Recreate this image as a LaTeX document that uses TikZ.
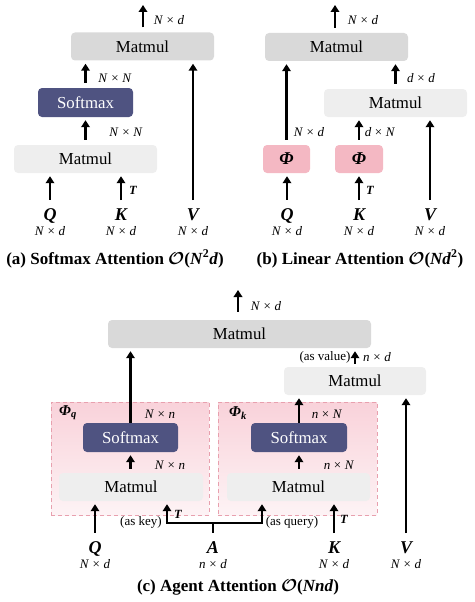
\documentclass[tikz,border=0pt]{standalone}
\usepackage{fontspec}
\setmainfont{Liberation Serif}
\usepackage{amsmath}
\usetikzlibrary{arrows.meta}
\definecolor{mmdark}{HTML}{D9D9D9}
\definecolor{mmlight}{HTML}{EEEEEE}
\definecolor{smfill}{HTML}{4F5381}
\definecolor{phifill}{HTML}{F4B8C3}
\definecolor{pinktop}{HTML}{F9D2DA}
\definecolor{pinkbot}{HTML}{FDF3F5}
\definecolor{pinkline}{HTML}{E8A0AE}
\newcommand{\dimx}[2]{\textit{#1}\hspace{0.28em}×\hspace{0.28em}\textit{#2}}
\tikzset{
 box/.style={rectangle, rounded corners=4pt, minimum height=28pt, inner sep=0pt, font=\fontsize{16.8}{18}\selectfont},
 mmA/.style={box, fill=mmdark},
 mmB/.style={box, fill=mmlight},
 smbox/.style={box, fill=smfill, text=white, minimum height=29pt},
 phibox/.style={box, fill=phifill, font=\fontsize{18}{20}\selectfont\bfseries\itshape},
 region/.style={rectangle, draw=pinkline, dash pattern=on 4pt off 3pt, line width=0.8pt, top color=pinktop, bottom color=pinkbot, inner sep=0pt},
 arr/.style={line width=2.4pt, -{Triangle[length=7pt,width=8.5pt]}, shorten >=3pt},
 plain/.style={line width=2.4pt},
 lbl/.style={font=\fontsize{13}{15}\selectfont, inner sep=0pt},
 tlbl/.style={font=\fontsize{12.5}{14}\selectfont\bfseries\itshape, inner sep=0pt},
 lett/.style={font=\fontsize{18}{20}\selectfont\bfseries\itshape, inner sep=0pt, anchor=base},
 dlbl/.style={lbl, anchor=base},
 capt/.style={font=\fontsize{17}{20}\selectfont\bfseries, inner sep=0pt},
 philbl/.style={font=\fontsize{15}{17}\selectfont\bfseries\itshape, inner sep=0pt},
}
\begin{document}
\begin{tikzpicture}[x=1pt,y=-1pt]
\useasboundingbox (0,0) rectangle (474,602);
% ---------------- (a) ----------------
\node[mmA, minimum width=143pt] (aMM2) at (142.5,46.5) {Matmul};
\node[smbox, minimum width=95pt] (aSM) at (85.5,102.5) {Softmax};
\node[mmB, minimum width=143pt] (aMM1) at (85.5,159) {Matmul};
\node[lett] (aQ) at (50,220) {Q};
\node[lett] (aK) at (121,220) {K};
\node[lett] (aV) at (193,220) {V};
\node[dlbl] (aQd) at (50,235) {\dimx Nd};
\node[dlbl] (aKd) at (121,235) {\dimx Nd};
\node[dlbl] (aVd) at (193,235) {\dimx Nd};
\coordinate (aOut) at (143,2);
\draw[arr, shorten <=5pt] (aMM2.north -| aOut) -- (aOut);
\draw[arr, shorten <=5pt] (aSM.north) -- (aSM.north |- aMM2.south);
\draw[arr, shorten <=5pt] (aMM1.north -| aSM.south) -- (aSM.south);
\draw[arr, shorten <=8pt] (aQ.north) -- (aQ.north |- aMM1.south);
\draw[arr, shorten <=8pt] (aK.north) -- (aK.north |- aMM1.south);
\draw[arr, shorten <=8pt] (aV.north) -- (aV.north |- aMM2.south);
\node[lbl] (aL1) at (169,20) {\dimx Nd};
\node[lbl] (aL2) at (115,78) {\dimx NN};
\node[lbl] (aL3) at (126,132) {\dimx NN};
\node[tlbl] (aT) at (133,190) {T};
\node[capt] (aCap) at (115,259) {(a) Softmax Attention $\boldsymbol{\mathcal{O}}$(\textit{N}\textsuperscript{2}\textit{d})};
% ---------------- (b) ----------------
\node[mmA, minimum width=143pt] (bMM2) at (336.5,47) {Matmul};
\node[mmB, minimum width=143pt] (bMM1) at (395.5,103) {Matmul};
\node[phibox, minimum width=47pt] (bPQ) at (286.5,159) {Φ};
\node[phibox, minimum width=48pt] (bPK) at (359,159) {Φ};
\node[lett] (bQ) at (287,220) {Q};
\node[lett] (bK) at (359,220) {K};
\node[lett] (bV) at (430,220) {V};
\node[dlbl] (bQd) at (287,235) {\dimx Nd};
\node[dlbl] (bKd) at (359,235) {\dimx Nd};
\node[dlbl] (bVd) at (430,235) {\dimx Nd};
\coordinate (bOut) at (335,2);
\draw[arr, shorten <=5pt] (bMM2.north -| bOut) -- (bOut);
\draw[arr, shorten <=5pt] (bPQ.north) -- (bPQ.north |- bMM2.south);
\draw[arr, shorten <=5pt] (bPK.north) -- (bPK.north |- bMM1.south);
\draw[arr, shorten <=5pt] (bMM1.north) -- (bMM1.north |- bMM2.south);
\draw[arr, shorten <=8pt] (bQ.north) -- (bQ.north |- bPQ.south);
\draw[arr, shorten <=8pt] (bK.north) -- (bK.north |- bPK.south);
\draw[arr, shorten <=8pt] (bV.north) -- (bV.north |- bMM1.south);
\node[lbl] (bL1) at (363,20) {\dimx Nd};
\node[lbl] (bL2) at (421,78) {\dimx dd};
\node[lbl] (bL3) at (309,132) {\dimx Nd};
\node[lbl] (bL4) at (380,132) {\dimx dN};
\node[tlbl] (bT) at (370,190) {T};
\node[capt] (bCap) at (360,259) {(b) Linear Attention $\boldsymbol{\mathcal{O}}$(\textit{Nd}\textsuperscript{2})};
% ---------------- (c) ----------------
\node[region, minimum width=158pt, minimum height=113pt] (cPq) at (130,458.5) {};
\node[region, minimum width=159pt, minimum height=113pt] (cPk) at (297.5,458.5) {};
\node[philbl] (cPqL) at (68,413) {Φ$_{\textit{q}}$};
\node[philbl] (cPkL) at (238,413) {Φ$_{\textit{k}}$};
\node[mmA, minimum width=263pt] (cMM2) at (239.5,334) {Matmul};
\node[mmB, minimum width=142pt] (cMM1) at (355,381) {Matmul};
\node[smbox, minimum width=95pt] (cSMq) at (130.5,437.5) {Softmax};
\node[mmB, minimum width=144pt] (cMMq) at (131,487) {Matmul};
\node[smbox, minimum width=96pt] (cSMk) at (299,437.5) {Softmax};
\node[mmB, minimum width=143pt] (cMMk) at (298.5,487) {Matmul};
\node[lett] (cQ) at (95,553) {Q};
\node[lett] (cA) at (213,553) {A};
\node[lett] (cK) at (334,553) {K};
\node[lett] (cV) at (406,553) {V};
\node[dlbl] (cQd) at (95,568) {\dimx Nd};
\node[dlbl] (cAd) at (213,568) {\dimx nd};
\node[dlbl] (cKd) at (334,568) {\dimx Nd};
\node[dlbl] (cVd) at (406,568) {\dimx Nd};
\coordinate (cOut) at (238,287);
\draw[arr, shorten <=8pt] (cMM2.north -| cOut) -- (cOut);
\draw[arr] (cSMq.north) -- (cSMq.north |- cMM2.south);
\draw[arr, shorten <=4pt] (cMMq.north -| cSMq.south) -- (cSMq.south);
\draw[arr] (cSMk.north) -- (cSMk.north |- cMM1.south);
\draw[arr, shorten <=4pt] (cMMk.north -| cSMk.south) -- (cSMk.south);
\draw[arr, shorten <=3pt] (cMM1.north) -- (cMM1.north |- cMM2.south);
\draw[arr, shorten <=8pt] (cQ.north) -- (cQ.north |- cMMq.south);
\draw[arr, shorten <=8pt] (cK.north) -- (cK.north |- cMMk.south);
\draw[arr, shorten <=8pt] (cV.north) -- (cV.north |- cMM1.south);
\coordinate (cJ) at (213,523);
\coordinate (cL) at (167,523);
\coordinate (cR) at (262,523);
\draw[plain, shorten <=8pt] (cA.north) -- (cJ);
\draw[arr] (cJ) -- (cL) -- (cL |- cMMq.south);
\draw[arr] (cJ) -- (cR) -- (cR |- cMMk.south);
\node[lbl] (cL1) at (266,306) {\dimx Nd};
\node[lbl] (cAV) at (325,357) {(as value)};
\node[lbl] (cL2) at (377,357) {\dimx nd};
\node[lbl] (cL3) at (160,414) {\dimx Nn};
\node[lbl] (cL4) at (170,465) {\dimx Nn};
\node[lbl] (cL5) at (327,414) {\dimx nN};
\node[lbl] (cL6) at (339,465) {\dimx nN};
\node[tlbl] (cT1) at (178,514) {T};
\node[tlbl] (cT2) at (344,519) {T};
\node[lbl] (cAK) at (141,522) {(as key)};
\node[lbl] (cAQ) at (292,522) {(as query)};
\node[capt] (cCap) at (238,587) {(c) Agent Attention $\boldsymbol{\mathcal{O}}$(\textit{Nnd})};
\end{tikzpicture}
\end{document}
